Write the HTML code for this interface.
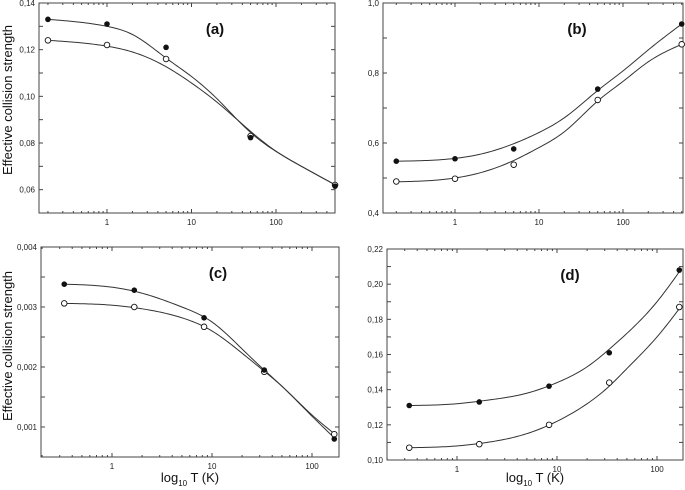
<!DOCTYPE html>
<html><head><meta charset="utf-8"><style>
html,body{margin:0;padding:0;background:#fff}
svg{display:block;font-family:"Liberation Sans",sans-serif}
</style></head><body>
<svg id="s" width="685" height="490"></svg>
<script>
// Panel (a)
const aPtsX=[0.2,1,5,50,500];
const aFilled=[0.133,0.131,0.121,0.0823,0.0615];
const aOpen=[0.124,0.122,0.116,0.083,0.062];
const aFitX=[0.2,1,2,5,10,20,50,100,200,500];
const aFitFilled=[0.133,0.130,0.1265,0.1164,0.1085,0.099,0.0845,0.0764,0.070,0.0621];
const aFitOpen=[0.124,0.1215,0.119,0.1127,0.1057,0.0975,0.085,0.0765,0.070,0.0621];
const aYTicks=[0.06,0.08,0.10,0.12,0.14];
const aYLabels=["0,06","0,08","0,10","0,12","0,14"];
// Panel (b)
const bPtsX=[0.2,1,5,50,500];
const bFilled=[0.548,0.555,0.583,0.754,0.94];
const bOpen=[0.49,0.498,0.538,0.723,0.882];
const bFitX=[0.2,1,2,5,10,20,50,100,200,500];
const bFitFilled=[0.548,0.556,0.568,0.598,0.63,0.672,0.75,0.806,0.866,0.94];
const bFitOpen=[0.489,0.50,0.515,0.55,0.587,0.632,0.72,0.776,0.832,0.882];
const bYTicks=[0.4,0.6,0.8,1.0];
const bYLabels=["0,4","0,6","0,8","1,0"];
// Panel (c)
const cPtsX=[0.333,1.67,8.33,33.3,167];
const cFilled=[0.00338,0.00328,0.00282,0.00195,0.0008];
const cOpen=[0.00306,0.0030,0.00267,0.00192,0.00088];
const cFitX=[0.333,1,2,5,10,20,33.3,50,100,167];
const cFitFilled=[0.00338,0.00333,0.00323,0.0030,0.00275,0.0023,0.00195,0.00168,0.00118,0.00082];
const cFitOpen=[0.00306,0.00303,0.00297,0.00282,0.0026,0.00223,0.00193,0.00168,0.0012,0.00089];
const cYTicks=[0.001,0.002,0.003,0.004];
const cYLabels=["0,001","0,002","0,003","0,004"];
// Panel (d)
const dPtsX=[0.333,1.67,8.33,33.3,167];
const dFilled=[0.131,0.133,0.142,0.161,0.208];
const dOpen=[0.107,0.109,0.120,0.144,0.187];
const dFitX=[0.333,1,2,5,10,20,33.3,50,100,167];
const dFitFilled=[0.131,0.132,0.134,0.138,0.144,0.153,0.163,0.172,0.19,0.207];
const dFitOpen=[0.107,0.108,0.110,0.115,0.122,0.132,0.142,0.152,0.170,0.186];
const dYTicks=[0.10,0.12,0.14,0.16,0.18,0.20,0.22];
const dYLabels=["0,10","0,12","0,14","0,16","0,18","0,20","0,22"];
const xTicks=[1,10,100];
const xLabels=["1","10","100"];

const NS="http://www.w3.org/2000/svg";
const svg=document.getElementById('s');
function mk(t,a,p){const e=document.createElementNS(NS,t);for(const k in a)e.setAttribute(k,a[k]);(p||svg).appendChild(e);return e;}

// natural cubic spline
function spline(xs,ys){
  const n=xs.length,h=[],al=[],l=[1],mu=[0],z=[0],c=new Array(n).fill(0),b=[],d=[];
  for(let i=0;i<n-1;i++)h[i]=xs[i+1]-xs[i];
  for(let i=1;i<n-1;i++)al[i]=3/h[i]*(ys[i+1]-ys[i])-3/h[i-1]*(ys[i]-ys[i-1]);
  for(let i=1;i<n-1;i++){l[i]=2*(xs[i+1]-xs[i-1])-h[i-1]*mu[i-1];mu[i]=h[i]/l[i];z[i]=(al[i]-h[i-1]*z[i-1])/l[i];}
  l[n-1]=1;z[n-1]=0;
  for(let j=n-2;j>=0;j--){c[j]=z[j]-mu[j]*c[j+1];b[j]=(ys[j+1]-ys[j])/h[j]-h[j]*(c[j+1]+2*c[j])/3;d[j]=(c[j+1]-c[j])/(3*h[j]);}
  return x=>{let i=0;while(i<n-2&&x>xs[i+1])i++;const t=x-xs[i];return ys[i]+b[i]*t+c[i]*t*t+d[i]*t*t*t;};
}

function panel(cfg){
  const g=mk('g',{});
  
  
  const {L,R,T,B,x1,dec,y0,y1}=cfg;
  const X=v=>x1+Math.log10(v)*dec;
  const Y=v=>B-(v-y0)/(y1-y0)*(B-T);
  const fr=mk('rect',{x:L,y:T,width:R-L,height:B-T,fill:'none',stroke:'#444','stroke-width':1},g);
  
  
  const lo=Math.floor((L-x1)/dec), hi=Math.ceil((R-x1)/dec);
  for(let e=lo;e<=hi;e++)for(let m=1;m<10;m++){
    const v=m*Math.pow(10,e);const px=X(v);if(px<L||px>R)continue;
    const len=m===1?4:2;
    mk('line',{x1:px,x2:px,y1:B,y2:B-len,stroke:'#444'},g);
    mk('line',{x1:px,x2:px,y1:T,y2:T+len,stroke:'#444'},g);
  }
  xTicks.forEach((v,i)=>{const px=X(v);if(px<L||px>R)return;
    const t=mk('text',{x:px,y:B+12,'font-size':8,'text-anchor':'middle',fill:'#222'},g);t.textContent=xLabels[i];
    });
  const step=cfg.yT[1]-cfg.yT[0];
  for(let v=y0;v<=y1+1e-12;v+=step/2){const py=Y(v);
    mk('line',{x1:L,x2:L+4,y1:py,y2:py,stroke:'#444'},g);
    mk('line',{x1:R,x2:R-4,y1:py,y2:py,stroke:'#444'},g);}
  cfg.yT.forEach((v,i)=>{const t=mk('text',{x:L-4,y:Y(v)+3,'font-size':8,'text-anchor':'end',fill:'#222'},g);t.textContent=cfg.yL[i];
    });
  function curve(xs,ys,name){
    const lx=xs.map(Math.log10);const f=spline(lx,ys);
    const a=lx[0],b=lx[lx.length-1];let d='';
    for(let k=0;k<=120;k++){const u=a+(b-a)*k/120;d+=(k?'L':'M')+(x1+u*dec).toFixed(2)+','+Y(f(u)).toFixed(2);}
    const el=mk('path',{d:d,fill:'none',stroke:'#333','stroke-width':1},g);
    
  }
  curve(cfg.fx,cfg.ff,'fit-curve-filled');
  curve(cfg.fx,cfg.fo,'fit-curve-open');
  cfg.px.forEach((x,i)=>{
    const c1=mk('circle',{cx:X(x),cy:Y(cfg.o[i]),r:2.8,fill:'#fff',stroke:'#111','stroke-width':0.9},g);
    
    const c2=mk('circle',{cx:X(x),cy:Y(cfg.f[i]),r:2.8,fill:'#111'},g);
    
  });
  const lb=mk('text',{x:cfg.lx,y:T+31,'font-size':15,'font-weight':'bold','text-anchor':'middle',fill:'#111'},g);
  lb.textContent='('+cfg.id+')';
  
}
panel({id:'a',L:39,R:335,T:3,B:213,x1:107,dec:84.5,y0:0.05,y1:0.14,yT:aYTicks,yL:aYLabels,px:aPtsX,f:aFilled,o:aOpen,fx:aFitX,ff:aFitFilled,fo:aFitOpen,lx:215});
panel({id:'b',L:383,R:683,T:3,B:213,x1:455,dec:84,y0:0.4,y1:1.0,yT:bYTicks,yL:bYLabels,px:bPtsX,f:bFilled,o:bOpen,fx:bFitX,ff:bFitFilled,fo:bFitOpen,lx:577});
panel({id:'c',L:41,R:339,T:247,B:457,x1:112,dec:100,y0:0.0005,y1:0.004,yT:cYTicks,yL:cYLabels,px:cPtsX,f:cFilled,o:cOpen,fx:cFitX,ff:cFitFilled,fo:cFitOpen,lx:218});
panel({id:'d',L:387,R:683,T:249,B:460,x1:457,dec:100,y0:0.10,y1:0.22,yT:dYTicks,yL:dYLabels,px:dPtsX,f:dFilled,o:dOpen,fx:dFitX,ff:dFitFilled,fo:dFitOpen,lx:570});

function ytitle(y){const t=mk('text',{x:0,y:0,'font-size':13,'text-anchor':'middle',fill:'#111',transform:'translate(12,'+y+') rotate(-90)'});
  t.textContent='Effective collision strength';}
ytitle(100);ytitle(346);
function xtitle(x){const t=mk('text',{x:x,y:482,'font-size':13,'text-anchor':'middle',fill:'#111'});
  t.innerHTML='log<tspan font-size="8" dy="4">10</tspan><tspan dy="-4"> T (K)</tspan>';
  }
xtitle(190);xtitle(535);
</script>
</body></html>
